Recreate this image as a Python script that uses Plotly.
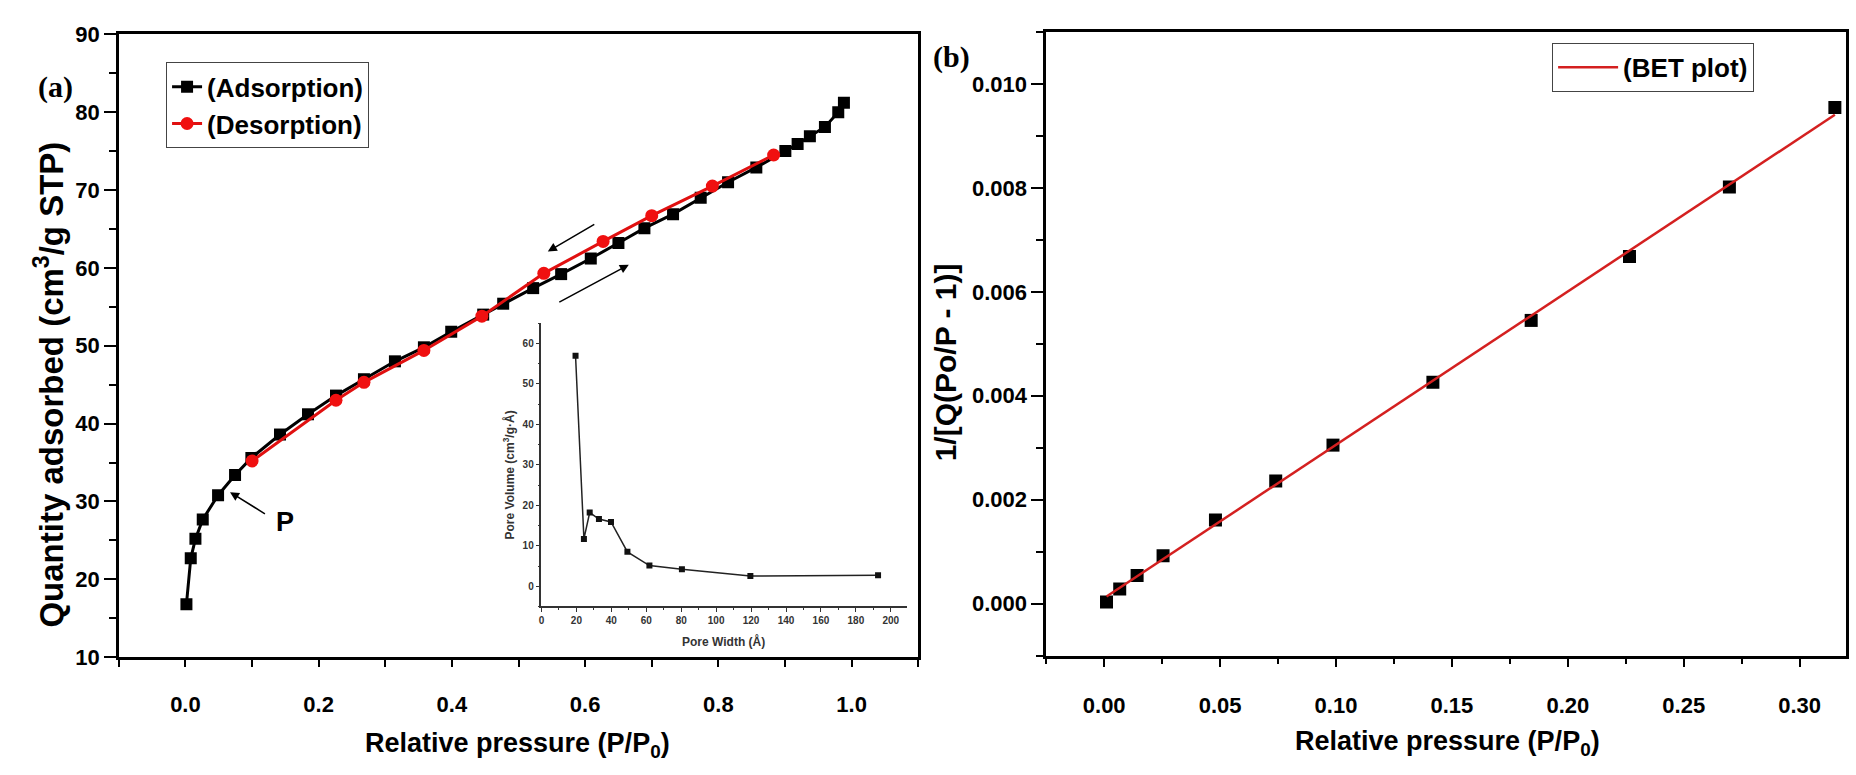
import numpy as np
import plotly.graph_objects as go

# ---------------- data ----------------
ads_x = [0.0015, 0.008, 0.015, 0.026, 0.049, 0.0745, 0.099, 0.142, 0.184, 0.226, 0.268,
         0.3145, 0.358, 0.399, 0.447, 0.477, 0.522, 0.564, 0.6085, 0.650, 0.689, 0.732,
         0.7735, 0.8146, 0.857, 0.9006, 0.919, 0.9374, 0.960, 0.980, 0.9885]
ads_y = [16.8, 22.7, 25.2, 27.7, 30.8, 33.4, 35.6, 38.6, 41.2, 43.6, 45.7,
         48.0, 49.8, 51.8, 54.0, 55.4, 57.4, 59.2, 61.2, 63.2, 65.1, 66.9,
         69.0, 71.0, 72.9, 75.0, 75.9, 76.9, 78.1, 80.0, 81.2]

des_x = [0.100, 0.226, 0.268, 0.358, 0.445, 0.538, 0.627, 0.700, 0.791, 0.883]
des_y = [35.2, 43.0, 45.3, 49.4, 53.8, 59.3, 63.4, 66.7, 70.5, 74.5]

pore_w = [19.5, 24.3, 27.6, 32.9, 39.8, 49.2, 61.8, 80.4, 119.6, 192.7]
pore_v = [57.0, 11.7, 18.2, 16.6, 15.9, 8.5, 5.1, 4.2, 2.5, 2.7]

bet_x = [0.001, 0.0067, 0.0142, 0.0254, 0.048, 0.074, 0.0987, 0.1418, 0.1842, 0.2266, 0.2697, 0.3152]
bet_y = [0.00003, 0.00028, 0.00054, 0.00092, 0.00161, 0.00236, 0.00305, 0.00426, 0.00545, 0.00668, 0.00802, 0.00955]

# linear BET fit
slope, icpt = np.polyfit(bet_x, bet_y, 1)
fit_x = [bet_x[0], bet_x[-1]]
fit_y = [slope * v + icpt for v in fit_x]

FONT = "Liberation Sans"
TICKF = dict(family=FONT, size=22, color="black", weight="bold")

fig = go.Figure()

fig.add_trace(go.Scatter(x=ads_x, y=ads_y, mode="lines+markers", name="(Adsorption)",
                         line=dict(color="black", width=3),
                         marker=dict(symbol="square", size=12, color="black"),
                         xaxis="x", yaxis="y", legend="legend"))
fig.add_trace(go.Scatter(x=des_x, y=des_y, mode="lines+markers", name="(Desorption)",
                         line=dict(color="#e01010", width=3),
                         marker=dict(symbol="circle", size=13, color="#f01010"),
                         xaxis="x", yaxis="y", legend="legend"))
fig.add_trace(go.Scatter(x=pore_w, y=pore_v, mode="lines+markers", showlegend=False,
                         line=dict(color="#222222", width=1.5),
                         marker=dict(symbol="square", size=6, color="#111111"),
                         xaxis="x3", yaxis="y3"))
fig.add_trace(go.Scatter(x=bet_x, y=bet_y, mode="markers", showlegend=False,
                         marker=dict(symbol="square", size=13, color="black"),
                         xaxis="x2", yaxis="y2"))
fig.add_trace(go.Scatter(x=fit_x, y=fit_y, mode="lines", name="(BET plot)",
                         line=dict(color="#d42020", width=2.5),
                         xaxis="x2", yaxis="y2", legend="legend2"))

axis_common = dict(showline=True, linewidth=2.5, linecolor="black", showgrid=False,
                   zeroline=False, ticks="outside", tickwidth=2, tickcolor="black",
                   tickfont=TICKF)

fig.update_layout(
    width=1856, height=775, margin=dict(l=0, r=0, t=0, b=0),
    plot_bgcolor="white", paper_bgcolor="white",
    xaxis=dict(domain=[0.0625, 0.4939], range=[-0.1, 1.1], anchor="y", dtick=0.2, tick0=0,
               tickformat=".1f", ticklen=7, mirror=True, ticklabelstandoff=19,
               minor=dict(dtick=0.1, tick0=0, ticks="outside", ticklen=7, tickwidth=2,
                          tickcolor="black", showgrid=False),
               **axis_common),
    yaxis=dict(domain=[0.1397, 0.9703], range=[10, 90], anchor="x", dtick=10, tick0=0,
               ticklen=12, mirror=True,
               minor=dict(dtick=5, tick0=0, ticks="outside", ticklen=7, tickwidth=2,
                          tickcolor="black", showgrid=False),
               **axis_common),
    xaxis2=dict(domain=[0.5630, 0.9946], range=[-0.025, 0.32], anchor="y2", dtick=0.05, tick0=0,
                tickformat=".2f", ticklen=9, mirror=True, ticklabelstandoff=19,
                minor=dict(dtick=0.025, tick0=0, ticks="outside", ticklen=6, tickwidth=2,
                           tickcolor="black", showgrid=False),
                **axis_common),
    yaxis2=dict(domain=[0.1419, 0.9733], range=[-0.001, 0.011], anchor="x2", dtick=0.002, tick0=0,
                tickformat=".3f", ticklen=12, mirror=True,
                minor=dict(dtick=0.001, tick0=0, ticks="outside", ticklen=7, tickwidth=2,
                           tickcolor="black", showgrid=False),
                **axis_common),
    xaxis3=dict(domain=[0.2906, 0.4876], range=[0, 209], anchor="y3", dtick=20, tick0=0,
                showline=True, linewidth=1.5, linecolor="#333333", showgrid=False, zeroline=False,
                ticks="outside", ticklen=4, tickwidth=1, tickcolor="#333333",
                tickfont=dict(family=FONT, size=10, color="#333333", weight="bold"),
                minor=dict(dtick=10, tick0=0, ticks="outside", ticklen=2, tickwidth=1,
                           tickcolor="#333333", showgrid=False)),
    yaxis3=dict(domain=[0.2074, 0.5849], range=[-5, 65], anchor="x3", dtick=10, tick0=0,
                showline=True, linewidth=1.5, linecolor="#333333", showgrid=False, zeroline=False,
                ticks="outside", ticklen=4, tickwidth=1, tickcolor="#333333",
                tickfont=dict(family=FONT, size=10, color="#333333", weight="bold"),
                minor=dict(dtick=5, tick0=0, ticks="outside", ticklen=2, tickwidth=1,
                           tickcolor="#333333", showgrid=False)),
    legend=dict(x=0.088, y=0.9329, xanchor="left", yanchor="top", bgcolor="white",
                bordercolor="#444444", borderwidth=1,
                font=dict(family=FONT, size=26, color="black", weight="bold")),
    legend2=dict(x=0.836, y=0.959, xanchor="left", yanchor="top", bgcolor="white",
                 bordercolor="#444444", borderwidth=1, itemwidth=60,
                 font=dict(family=FONT, size=26, color="black", weight="bold")),
)

def ann(text, x, y, size, angle=0, family=FONT, color="black"):
    fig.add_annotation(text=text, x=x, y=y, xref="paper", yref="paper", showarrow=False,
                       textangle=angle, xanchor="center", yanchor="middle",
                       font=dict(family=family, size=size, color=color, weight="bold"))

ann("(a)", 0.0286, 0.9006, 30, family="Liberation Serif")
ann("(b)", 0.5119, 0.9394, 30, family="Liberation Serif")
ann("Quantity adsorbed (cm<sup>3</sup>/g STP)", 0.0248, 0.5032, 33, angle=-90)
ann("Relative pressure (P/P<sub>0</sub>)", 0.2775, 0.0232, 27)
ann("Relative pressure (P/P<sub>0</sub>)", 0.7795, 0.0258, 27)
ann("1/[Q(Po/P - 1)]", 0.5086, 0.5335, 30, angle=-90)
ann("Pore Volume (cm<sup>3</sup>/g·Å)", 0.2730, 0.3832, 12, angle=-90, color="#333333")
ann("Pore Width (Å)", 0.3888, 0.1613, 12, color="#333333")

# "P" label and arrows (annotation positions in data coordinates of panel (a))
fig.add_annotation(text="P", x=0.149, y=27.4, xref="x", yref="y", showarrow=False,
                   font=dict(family=FONT, size=27, color="black", weight="bold"))
arrows = [  # (head_x, head_y, tail_x, tail_y)
    (0.067, 31.2, 0.1216, 28.3),
    (0.544, 62.1, 0.616, 65.7),
    (0.6656, 60.4, 0.559, 55.5),
]
for hx, hy, tx, ty in arrows:
    fig.add_annotation(x=hx, y=hy, ax=tx, ay=ty, xref="x", yref="y", axref="x", ayref="y",
                       text="", showarrow=True, arrowhead=2, arrowsize=1.2, arrowwidth=1.5,
                       arrowcolor="black")

fig.write_html("out.html")
